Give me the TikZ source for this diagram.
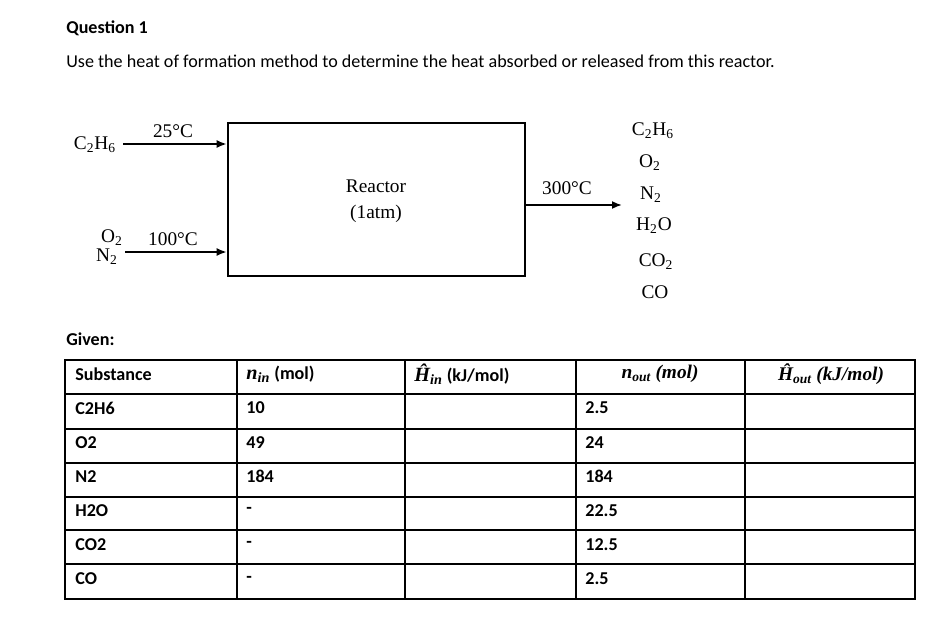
\documentclass[tikz,border=0pt]{standalone}
\usepackage{fontspec}
\setmainfont{Carlito}
\newfontfamily\timesfont{Liberation Serif}
\newcommand\mvar[1]{{\timesfont\bfseries\itshape #1}}
\usetikzlibrary{arrows.meta}

\begin{document}
\begin{tikzpicture}[x=0.2mm, y=-0.2mm,
    txt/.style={font=\fontsize{10.3}{12}\selectfont, anchor=west, inner sep=0pt},
    cell/.style={font=\fontsize{10.3}{12}\selectfont\bfseries, anchor=west, inner sep=0pt},
    head/.style={font=\fontsize{11}{12}\selectfont\bfseries, inner sep=0pt},
    lbl/.style={font=\timesfont\fontsize{11}{13}\selectfont, inner sep=0pt},
    stream/.style={-{Latex[length=2mm,width=1.6mm]}, line width=1pt},
    rule/.style={line width=0.8pt}
  ]
    \useasboundingbox (0,0) rectangle (949,633);

    % question text
    \node[txt, font=\fontsize{10.3}{12}\selectfont\bfseries] (qtitle) at (66,28) {Question 1};
    \node[txt] (qtext) at (66,61) {Use the heat of formation method to determine the heat absorbed or released from this reactor.};

    % reactor and streams
    \node[draw, line width=1.5pt, minimum width=59.4mm, minimum height=30.6mm] (reactor) at (376.5,199.5) {};
    \node[lbl, align=center, font=\timesfont\fontsize{11}{14.7}\selectfont] (rlabel) at (376,201) {Reactor\\(1atm)};

    \node[lbl] (feedA) at (95,145) {C\textsubscript{2}H\textsubscript{6}};
    \node[lbl] (tempA) at (173,131) {25°C};
    \coordinate (inA) at (123,144);
    \draw[stream] (inA) -- (inA -| reactor.west);

    \node[lbl] (feedO) at (112,238) {O\textsubscript{2}};
    \node[lbl] (feedN) at (107,257) {N\textsubscript{2}};
    \node[lbl] (tempB) at (173,239) {100°C};
    \coordinate (inB) at (125,252);
    \draw[stream] (inB) -- (inB -| reactor.west);

    \node[lbl] (tempC) at (567,188) {300°C};
    \coordinate (outC) at (622,205);
    \draw[stream] (outC -| reactor.east) -- (outC);

    \node[lbl] (pA) at (653,131) {C\textsubscript{2}H\textsubscript{6}};
    \node[lbl] (pB) at (650,163) {O\textsubscript{2}};
    \node[lbl] (pC) at (651,195) {N\textsubscript{2}};
    \node[lbl] (pD) at (654,226) {H\textsubscript{2}O};
    \node[lbl] (pE) at (656,262) {CO\textsubscript{2}};
    \node[lbl] (pF) at (655,292) {CO};

    % given table
    \node[txt, font=\fontsize{10.3}{12}\selectfont\bfseries] (given) at (66,339) {Given:};

    \draw[rule] (65,360) rectangle (915,599);
    \foreach \y in {394,429,463,497,530,564}
      \draw[rule] (65,\y) -- (915,\y);
    \foreach \x in {237,405,576,745}
      \draw[rule] (\x,360) -- (\x,599);

    \node[cell] (hsub) at (75,374) {Substance};
    \node[cell] (hnin) at (246,374) {{\fontsize{11.5}{12}\selectfont\mvar{n}\textsubscript{\mvar{in}}} (mol)};
    \node[cell] (hhin) at (414,374) {{\fontsize{11.5}{12}\selectfont\mvar{Ĥ}\textsubscript{\mvar{in}}} (kJ/mol)};
    \node[head] (hnout) at (660,374) {\mvar{n}\textsubscript{\mvar{out}} \mvar{(mol)}};
    \node[head] (hhout) at (831,374) {\mvar{Ĥ}\textsubscript{\mvar{out}} \mvar{(kJ/mol)}};

    \foreach \name/\nin/\nout [count=\i from 0] in {C2H6/10/2.5, O2/49/24, N2/184/184, H2O/-/22.5, CO2/-/12.5, CO/-/2.5}{
      \node[cell] (sub\i) at (75,{408+34.2*\i}) {\name};
      \node[cell] (nin\i) at (246,{408+34.2*\i}) {\nin};
      \node[cell] (nout\i) at (585,{408+34.2*\i}) {\nout};
    }
  \end{tikzpicture}
\end{document}
